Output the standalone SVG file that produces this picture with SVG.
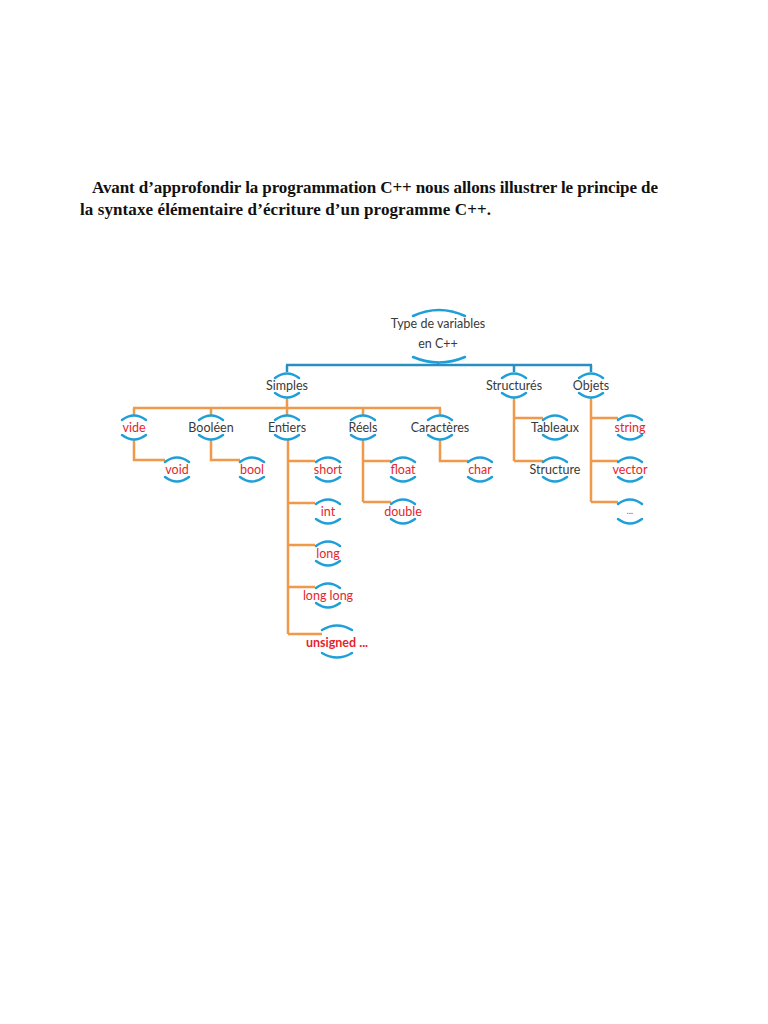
<svg xmlns="http://www.w3.org/2000/svg" xmlns:xlink="http://www.w3.org/1999/xlink" width="768" height="1024" viewBox="0 0 768 1024">
<style>
.bg{fill:#ffffff}
.head{font-family:"Liberation Serif","Times New Roman",serif;font-size:17px;font-weight:bold;fill:#111111}
.lbl{font-family:Lato,"Open Sans","Liberation Sans",sans-serif;font-size:12.5px;text-anchor:middle}
.dark{fill:#3a3a3a}
.red{fill:#e3262d}
.bold{font-weight:bold}
.arc{fill:none;stroke:#1e9fd8;stroke-width:2.5;stroke-linecap:round}
.blue{fill:none;stroke:#2a8fc0;stroke-width:2.5}
.orange{fill:none;stroke:#f0994a;stroke-width:2.5}
</style>
<defs>
<g id="arcs">
<path class="arc" d="M-12,-12 Q0,-21 12,-12"/>
<path class="arc" d="M-12,3 Q0,12 12,3"/>
</g>
<g id="arcsWide">
<path class="arc" d="M-15,-17 Q0,-26 15,-17"/>
<path class="arc" d="M-15,6 Q0,15 15,6"/>
</g>
</defs>
<rect class="bg" x="0" y="0" width="768" height="1024"/>
<text class="head" x="92" y="193" textLength="566" lengthAdjust="spacing">Avant d’approfondir la programmation C++ nous allons illustrer le principe de</text>
<text class="head" x="80" y="215" textLength="411" lengthAdjust="spacing">la syntaxe élémentaire d’écriture d’un programme C++.</text>

<g id="connectors">
<path class="blue" d="M438,362 V365 M286,365 H592 M287,365 V372 M514,365 V372 M591,365 V372"/>
<path class="orange" d="M287,398 V408 M133,408 H441 M134,408 V415 M211,408 V415 M287,408 V415 M363,408 V415 M440,408 V415"/>
<path class="orange" d="M134,440 V460 H165"/>
<path class="orange" d="M211,440 V460 H240"/>
<path class="orange" d="M288,440 V634 M288,461 H315 M288,503 H315 M288,545 H315 M288,587 H315 M288,634 H322"/>
<path class="orange" d="M363,440 V502 M363,461 H391 M363,502 H391"/>
<path class="orange" d="M440,440 V461 H468"/>
<path class="orange" d="M514,398 V461 M514,418 H543 M514,461 H543"/>
<path class="orange" d="M591,398 V502 M591,418 H618 M591,461 H618 M591,502 H618"/>
</g>

<g id="n-root">
<path class="arc" d="M413,316 Q439,304 465,316"/>
<path class="arc" d="M413,357 Q439,368 465,357"/>
<text class="lbl dark" x="438" y="328">Type de variables</text>
<text class="lbl dark" x="438" y="348">en C++</text>
</g>

<g id="n-simples" transform="translate(287,390)"><use xlink:href="#arcs"/><text class="lbl dark" x="0" y="0">Simples</text></g>
<g id="n-structures" transform="translate(514,390)"><use xlink:href="#arcs"/><text class="lbl dark" x="0" y="0">Structurés</text></g>
<g id="n-objets" transform="translate(591,390)"><use xlink:href="#arcs"/><text class="lbl dark" x="0" y="0">Objets</text></g>

<g id="n-vide" transform="translate(134,432)"><use xlink:href="#arcs"/><text class="lbl red" x="0" y="0">vide</text></g>
<g id="n-booleen" transform="translate(211,432)"><use xlink:href="#arcs"/><text class="lbl dark" x="0" y="0">Booléen</text></g>
<g id="n-entiers" transform="translate(287,432)"><use xlink:href="#arcs"/><text class="lbl dark" x="0" y="0">Entiers</text></g>
<g id="n-reels" transform="translate(363,432)"><use xlink:href="#arcs"/><text class="lbl dark" x="0" y="0">Réels</text></g>
<g id="n-caracteres" transform="translate(440,432)"><use xlink:href="#arcs"/><text class="lbl dark" x="0" y="0">Caractères</text></g>
<g id="n-tableaux" transform="translate(555,432)"><use xlink:href="#arcs"/><text class="lbl dark" x="0" y="0">Tableaux</text></g>
<g id="n-string" transform="translate(630,432)"><use xlink:href="#arcs"/><text class="lbl red" x="0" y="0">string</text></g>

<g id="n-void" transform="translate(177,474)"><use xlink:href="#arcs"/><text class="lbl red" x="0" y="0">void</text></g>
<g id="n-bool" transform="translate(252,474)"><use xlink:href="#arcs"/><text class="lbl red" x="0" y="0">bool</text></g>
<g id="n-short" transform="translate(328,474)"><use xlink:href="#arcs"/><text class="lbl red" x="0" y="0">short</text></g>
<g id="n-float" transform="translate(403,474)"><use xlink:href="#arcs"/><text class="lbl red" x="0" y="0">float</text></g>
<g id="n-char" transform="translate(480,474)"><use xlink:href="#arcs"/><text class="lbl red" x="0" y="0">char</text></g>
<g id="n-structure" transform="translate(555,474)"><use xlink:href="#arcs"/><text class="lbl dark" x="0" y="0">Structure</text></g>
<g id="n-vector" transform="translate(630,474)"><use xlink:href="#arcs"/><text class="lbl red" x="0" y="0">vector</text></g>

<g id="n-int" transform="translate(328,516)"><use xlink:href="#arcs"/><text class="lbl red" x="0" y="0">int</text></g>
<g id="n-double" transform="translate(403,516)"><use xlink:href="#arcs"/><text class="lbl red" x="0" y="0">double</text></g>
<g id="n-etc" transform="translate(630,516)"><use xlink:href="#arcs"/><text class="lbl red" x="0" y="-2" style="font-size:9px">...</text></g>

<g id="n-long" transform="translate(328,558)"><use xlink:href="#arcs"/><text class="lbl red" x="0" y="0">long</text></g>
<g id="n-longlong" transform="translate(328,600)"><use xlink:href="#arcs"/><text class="lbl red" x="0" y="0">long long</text></g>
<g id="n-unsigned" transform="translate(337,647)"><use xlink:href="#arcsWide"/><text class="lbl red bold" x="0" y="0">unsigned ...</text></g>
</svg>
